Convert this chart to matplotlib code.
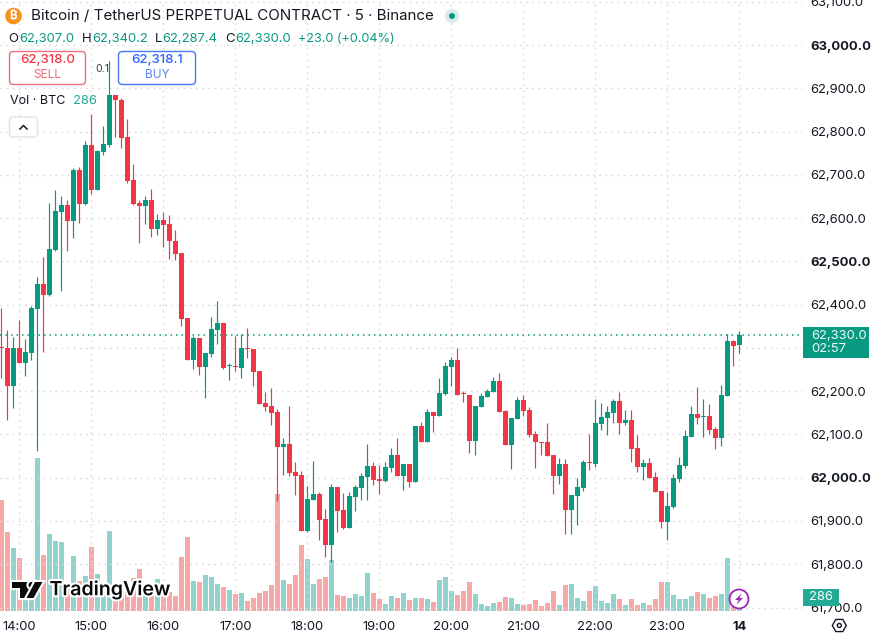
import math

import matplotlib
matplotlib.use('Agg')
import matplotlib.pyplot as plt
from matplotlib.patches import Circle, FancyBboxPatch, Polygon, RegularPolygon, Rectangle
from matplotlib.patheffects import withStroke

plt.rcParams['font.family'] = ['Inter', 'Noto Sans', 'Roboto', 'Open Sans', 'Lato', 'DejaVu Sans']

# 5 minute bars, BTCUSDT perpetual, 13:45 to 00:00
opens = [62302, 62300, 62213, 62300, 62264, 62289, 62391, 62448, 62422, 62526, 62615, 62630,
         62594, 62711, 62633, 62769, 62665, 62753, 62769, 62885, 62873, 62787, 62688, 62636,
         62629, 62642, 62575, 62596, 62587, 62547, 62519, 62369, 62272, 62323, 62257, 62285,
         62342, 62358, 62258, 62259, 62254, 62300, 62298, 62247, 62173, 62166, 62152, 62072,
         62078, 62013, 62006, 61877, 61948, 61962, 61905, 61844, 61978, 61925, 61884, 61955,
         61976, 62002, 62027, 61996, 61992, 62022, 62052, 62004, 62032, 61990, 62120, 62083,
         62152, 62143, 62194, 62256, 62272, 62196, 62191, 62085, 62163, 62187, 62198, 62224,
         62154, 62076, 62136, 62180, 62157, 62101, 62083, 62083, 62052, 62004, 62032, 61925,
         61958, 61976, 62036, 62032, 62124, 62138, 62150, 62177, 62126, 62133, 62069, 62025,
         62034, 62002, 61969, 61898, 61932, 61997, 62027, 62094, 62147, 62140, 62143, 62113,
         62092, 62189, 62316, 62307.0]
highs = [62393, 62341, 62326, 62365, 62321, 62397, 62464, 62510, 62634, 62665, 62650, 62642,
         62716, 62719, 62777, 62841, 62758, 62813, 62962, 62885, 62877, 62829, 62725, 62642,
         62650, 62667, 62610, 62614, 62607, 62573, 62519, 62369, 62328, 62323, 62288, 62372,
         62409, 62358, 62264, 62328, 62332, 62346, 62298, 62247, 62198, 62207, 62158, 62092,
         62166, 62036, 62015, 61981, 62039, 61966, 61928, 61985, 61978, 61965, 61966, 61983,
         62011, 62078, 62036, 62029, 62036, 62069, 62092, 62032, 62032, 62120, 62129, 62158,
         62152, 62231, 62267, 62279, 62299, 62200, 62191, 62166, 62196, 62205, 62233, 62242,
         62157, 62138, 62187, 62191, 62163, 62108, 62083, 62126, 62052, 62046, 62043, 61960,
         61999, 62041, 62101, 62182, 62173, 62166, 62182, 62198, 62157, 62157, 62099, 62043,
         62046, 62013, 61969, 61967, 62009, 62048, 62110, 62166, 62210, 62182, 62170, 62117,
         62214, 62332, 62318, 62340.2]
lows = [62231, 62133, 62162, 62264, 62236, 62271, 62062, 62291, 62421, 62525, 62432, 62523,
        62555, 62588, 62630, 62656, 62664, 62746, 62765, 62787, 62763, 62682, 62630, 62543,
        62586, 62557, 62560, 62534, 62506, 62502, 62351, 62272, 62251, 62237, 62185, 62280,
        62309, 62251, 62226, 62247, 62231, 62277, 62212, 62170, 62155, 62122, 61947, 62006,
        62004, 61960, 61877, 61875, 61948, 61856, 61817, 61806, 61875, 61881, 61884, 61923,
        61948, 61948, 61983, 61962, 61990, 62013, 62004, 61972, 61979, 61990, 62083, 62083,
        62106, 62143, 62191, 62212, 62191, 62175, 62057, 62052, 62163, 62187, 62198, 62152,
        62076, 62020, 62136, 62143, 62094, 62022, 62052, 62050, 61962, 61985, 61870, 61870,
        61891, 61969, 62018, 62025, 62110, 62099, 62126, 62101, 62122, 62036, 62013, 61995,
        61999, 61967, 61884, 61856, 61930, 61990, 62022, 62094, 62124, 62094, 62101, 62066,
        62073, 62189, 62258, 62287.4]
closes = [62300, 62213, 62300, 62264, 62291, 62393, 62448, 62422, 62528, 62617, 62630, 62594,
          62711, 62633, 62769, 62665, 62756, 62772, 62885, 62872, 62786, 62686, 62633, 62629,
          62642, 62575, 62596, 62584, 62546, 62517, 62367, 62272, 62323, 62257, 62288, 62344,
          62358, 62254, 62260, 62257, 62300, 62298, 62244, 62170, 62163, 62150, 62072, 62077,
          62012, 62004, 61877, 61951, 61962, 61902, 61844, 61978, 61923, 61884, 61958, 61978,
          62004, 62027, 61995, 61993, 62025, 62052, 62004, 62032, 61990, 62120, 62083, 62152,
          62143, 62196, 62258, 62272, 62191, 62194, 62085, 62166, 62189, 62200, 62224, 62152,
          62076, 62138, 62180, 62154, 62099, 62083, 62080, 62050, 62004, 62032, 61925, 61960,
          61978, 62036, 62034, 62126, 62140, 62152, 62177, 62126, 62133, 62066, 62025, 62034,
          61999, 61967, 61898, 61935, 61999, 62029, 62096, 62147, 62138, 62143, 62110, 62092,
          62191, 62316, 62304, 62330.0]
volumes = [2435, 1738, 1379, 1159, 440, 440, 3366, 1225, 1687, 1533, 1511, 600,
           1203, 653, 763, 1401, 807, 528, 1753, 374, 440, 528, 719, 917,
           594, 550, 697, 440, 418, 323, 1181, 1621, 653, 631, 785, 741,
           587, 521, 455, 367, 389, 213, 279, 389, 433, 565, 2567, 682,
           594, 792, 1452, 1144, 594, 704, 748, 1122, 352, 330, 286, 374,
           330, 836, 396, 264, 154, 330, 286, 396, 242, 286, 286, 264,
           198, 682, 748, 440, 352, 440, 638, 374, 154, 110, 176, 198,
           308, 286, 154, 132, 154, 242, 110, 176, 440, 132, 572, 594,
           286, 220, 440, 550, 220, 176, 374, 264, 132, 264, 132, 176,
           132, 264, 638, 638, 352, 264, 264, 330, 418, 374, 286, 330,
           374, 1166, 88, 286]

time_ticks = [3, 15, 27, 39, 51, 63, 75, 87, 99, 111, 123]
time_labels = ['14:00', '15:00', '16:00', '17:00', '18:00', '19:00', '20:00', '21:00', '22:00', '23:00', '14']
price_ticks = [61700, 61800, 61900, 62000, 62100, 62200, 62300, 62400, 62500, 62600, 62700, 62800, 62900, 63000, 63100]

GREEN = '#089981'
RED = '#F23645'
INK = '#131722'
GRID = '#d8dade'

W, H = 874, 639
PANE_R, PANE_B = 802, 611

fig = plt.figure(figsize=(W / 100, H / 100), dpi=100, facecolor='white')
pane = [0, 1 - PANE_B / H, PANE_R / W, PANE_B / H]

# volume sits in its own scale under the price candles
ax_vol = fig.add_axes(pane, zorder=1)
ax = fig.add_axes(pane, zorder=2, facecolor='none', sharex=ax_vol)

xs = list(range(len(closes)))
up = [c >= o for o, c in zip(opens, closes)]

ax_vol.bar(xs, volumes, width=0.83, linewidth=0, alpha=0.5,
           color=['#26a69a' if u else '#ef5350' for u in up])
ax_vol.set_ylim(0, 13442)
ax_vol.axis('off')

candle_colors = [GREEN if u else RED for u in up]
ax.vlines(xs, lows, highs, colors=candle_colors, linewidth=0.85, zorder=3)
ax.bar(xs, [abs(c - o) for o, c in zip(opens, closes)],
       bottom=[min(o, c) for o, c in zip(opens, closes)],
       width=0.83, color=candle_colors, linewidth=0, zorder=4)
ax.axhline(closes[-1], color=GREEN, linewidth=1.1, linestyle=(0, (1, 2.6)), zorder=2)

ax.set_xlim(-0.217, 133.45)
ax.set_ylim(61692, 63104)
for name in ax.spines:
    ax.spines[name].set_visible(False)

ax.set_xticks(time_ticks)
ax.set_xticklabels(time_labels)
ax.set_yticks(price_ticks)
# the 62,300 line has no label, the last price tag takes its place on the scale
ax.set_yticklabels(['' if p == 62300 else f'{p:,.1f}' for p in price_ticks])
ax.yaxis.tick_right()
ax.tick_params(axis='both', length=0, labelsize=9.4, labelcolor=INK)
ax.tick_params(axis='x', pad=7)
ax.tick_params(axis='y', pad=5.8)
ax.grid(True, color=GRID, linewidth=1, linestyle=(0, (1.2, 3.2)), zorder=0)
ax.set_axisbelow(True)

for tick_text, p in zip(ax.get_yticklabels(), price_ticks):
    if p % 500 == 0:
        tick_text.set_fontweight('bold')
ax.get_xticklabels()[-1].set_fontweight('bold')

# header, buttons and tags are laid out in screen pixels
ui = fig.add_axes([0, 0, 1, 1], zorder=3, facecolor='none')
ui.set_xlim(0, W)
ui.set_ylim(H, 0)
ui.axis('off')


def label(x, y, s, color=INK, size=9.4, weight='normal', ha='left'):
    return ui.text(x, y, s, color=color, fontsize=size, fontweight=weight, ha=ha, va='center')


def button(x, y, w, h, edge):
    ui.add_patch(FancyBboxPatch((x + 3, y + 3), w - 6, h - 6, boxstyle='round,pad=3,rounding_size=4',
                                facecolor='white', edgecolor=edge, linewidth=1, mutation_aspect=1))


ui.add_patch(Circle((13.5, 16), 8.3, color='#F7931A', linewidth=0))
label(13.5, 16, '\u20bf', color='white', size=8.5, weight='bold', ha='center')
label(31, 16, 'Bitcoin / TetherUS PERPETUAL CONTRACT · 5 · Binance', size=10.9)
ui.add_patch(Circle((452, 16), 7, color='#d5ece8', linewidth=0))
ui.add_patch(Circle((452, 16), 3, color=GREEN, linewidth=0))

for x, s in [(8.7, 'O'), (81.7, 'H'), (155, 'L'), (225, 'C')]:
    label(x, 38.7, s)
for x, s in [(19.3, '62,307.0'), (92, '62,340.2'), (162.7, '62,287.4'), (235.3, '62,330.0')]:
    label(x, 38.7, s, color=GREEN)
label(298, 38.7, '+23.0 (+0.04%)', color=GREEN, size=9.1)

button(9.5, 51.5, 76, 33, '#e8707c')
label(47.5, 60.5, '62,318.0', color=RED, size=9.6, weight='medium', ha='center')
label(47.5, 75, 'SELL', color='#ee6a76', size=8.6, ha='center')
label(102, 69, '0.1', color='#3a3e4a', size=7.6, ha='center')
button(118.5, 51.5, 77, 33, '#4a78e8')
label(157, 60.5, '62,318.1', color='#2962FF', size=9.6, weight='medium', ha='center')
label(157, 75, 'BUY', color='#5b84ee', size=8.6, ha='center')

label(9.5, 101.5, 'Vol · BTC', size=9.0)
label(73, 101.5, '286', color='#22ab94')
button(9.5, 117, 28, 20, '#e0e3eb')
ui.plot([20, 23.5, 27], [129, 125.5, 129], color=INK, linewidth=1.1)

# last price and volume tags on the scale
ui.add_patch(Rectangle((803, 326.7), 66, 31, color=GREEN, linewidth=0))
ui.text(811, 342.8, '62,330.0\n02:57', color='#f0faf8', fontsize=9.4, ha='left', va='center', linespacing=1.12)
ui.add_patch(Rectangle((803, 589), 36, 17, color='#22ab94', linewidth=0))
label(821, 597.5, '286', color='white', ha='center')

# watermark
halo = [withStroke(linewidth=3, foreground='white')]
for patch in [Polygon([(12, 582), (29, 582), (29, 598), (20, 598), (20, 588), (12, 588)], closed=True),
              Circle((31.5, 585), 3),
              Polygon([(35, 582), (42.5, 582), (33.5, 598), (26.5, 598)], closed=True)]:
    patch.set_facecolor('#0a0a0a')
    patch.set_edgecolor('none')
    patch.set_path_effects([withStroke(linewidth=3, foreground='white')])
    ui.add_patch(patch)
ui.text(49.5, 590, 'TradingView', color='#0a0a0a', fontsize=14.1, fontweight='semibold',
        ha='left', va='center', path_effects=halo)

# flash and settings icons
ui.add_patch(Circle((739, 599), 9.5, facecolor='white', edgecolor='#9c27b0', linewidth=1.3))
ui.add_patch(Polygon([(741.5, 593.5), (735, 600), (738.5, 600), (736.5, 604.5), (743, 598), (739.5, 598)],
                     closed=True, color='#9c27b0', linewidth=0))
ui.add_patch(RegularPolygon((839.3, 625.5), 6, radius=7, orientation=math.pi / 6,
                            facecolor='none', edgecolor=INK, linewidth=1))
ui.add_patch(Circle((839.3, 625.5), 2, facecolor='none', edgecolor=INK, linewidth=1))

fig.savefig('out.png', dpi=100, facecolor='white')
